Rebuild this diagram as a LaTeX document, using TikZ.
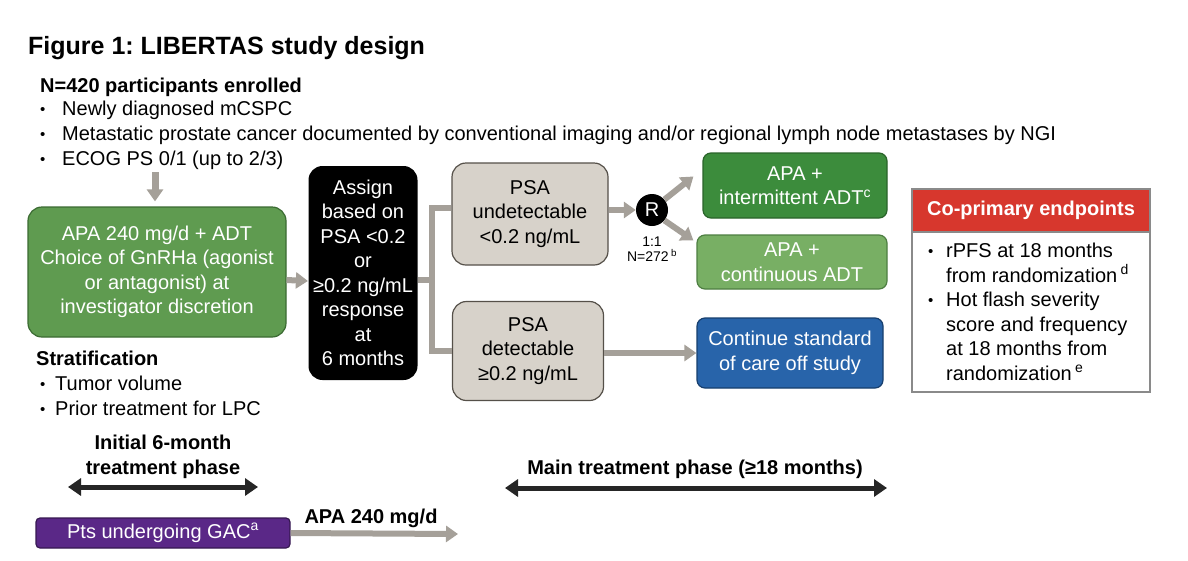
\documentclass[tikz,border=0pt]{standalone}
\usepackage{fontspec}
\setmainfont{Liberation Sans}
\usetikzlibrary{arrows.meta,calc}
\frenchspacing
\definecolor{arrowgrey}{HTML}{A5A099}
\definecolor{gmid}{HTML}{5F9B50}
\definecolor{gmidb}{HTML}{3B6B32}
\definecolor{gdark}{HTML}{3C8C3C}
\definecolor{gdarkb}{HTML}{2A642A}
\definecolor{glight}{HTML}{78AF64}
\definecolor{glightb}{HTML}{4E7F42}
\definecolor{bluef}{HTML}{2864AA}
\definecolor{blueb}{HTML}{173F6E}
\definecolor{redf}{HTML}{D7372D}
\definecolor{purplef}{HTML}{5A2887}
\definecolor{psaf}{HTML}{D7D2CA}
\definecolor{psab}{HTML}{555049}
\definecolor{epb}{HTML}{8A8A8A}
\newcommand{\bul}[1]{\makebox[#1][l]{\raisebox{1pt}{\fontsize{15}{15}\selectfont •}}}
\begin{document}
\begin{tikzpicture}[x=1pt,y=-1pt,
  txt/.style={font=\fontsize{20}{24.5}\selectfont, inner sep=0pt, anchor=base west},
  btxt/.style={font=\bfseries\fontsize{20}{24.5}\selectfont, inner sep=0pt},
  box/.style={rounded corners=14pt, inner sep=0pt, align=center, text=white,
    font=\fontsize{20}{24.5}\selectfont, line width=1.2pt},
  gline/.style={draw=arrowgrey, line width=6pt},
  garrow/.style={draw=arrowgrey, line width=6pt, -{Triangle[length=12pt,width=16pt]}},
  darrow/.style={draw=black!85, line width=5pt,
    {Triangle[length=13pt,width=17pt]}-{Triangle[length=13pt,width=17pt]}}
]
\path[use as bounding box, fill=white] (0,0) rectangle (1188,560);

% title and enrolment
\node[btxt, anchor=base west, font=\bfseries\fontsize{25}{30}\selectfont] (title) at (28,54) {Figure 1: LIBERTAS study design};
\node[btxt, anchor=base west] (enr) at (40,92) {N=420 participants enrolled};
\node[txt] (b1) at (40,115) {\bul{22pt}Newly diagnosed mCSPC};
\node[txt] (b2) at (40,140) {\bul{22pt}Metastatic prostate cancer documented by conventional imaging and/or regional lymph node metastases by NGI};
\node[txt] (b3) at (40,165) {\bul{22pt}ECOG PS 0/1 (up to 2/3)};
\coordinate (ecogend) at (155,172);

% boxes
\node[box, fill=gmid, draw=gmidb, minimum width=258pt, minimum height=130pt] (green1) at (157,272)
  {APA 240 mg/d + ADT\\Choice of GnRHa (agonist\\or antagonist) at\\investigator discretion};
\node[box, fill=black, minimum width=109pt, minimum height=214pt] (black) at (363,273)
  {Assign\\based on\\PSA <0.2\\or\\≥0.2 ng/mL\\response\\at\\6 months};
\node[box, fill=psaf, draw=psab, text=black, minimum width=156pt, minimum height=102pt] (psa1) at (530,214)
  {PSA\\undetectable\\<0.2 ng/mL};
\node[box, fill=psaf, draw=psab, text=black, minimum width=151pt, minimum height=99pt] (psa2) at (528,351)
  {PSA\\detectable\\≥0.2 ng/mL};
\node[circle, fill=black, minimum size=32pt, inner sep=0pt, text=white,
  font=\fontsize{20}{24}\selectfont] (R) at (652,210) {R};
\node[font=\fontsize{14}{15}\selectfont, align=center, inner sep=0pt] (ratio) at (652,249)
  {1:1\\N=272\,\textsuperscript{b}};
\node[box, rounded corners=8pt, fill=gdark, draw=gdarkb, minimum width=184pt, minimum height=65pt] (int) at (795,185.5)
  {APA +\\intermittent ADT\textsuperscript{c}};
\node[box, rounded corners=8pt, fill=glight, draw=glightb, minimum width=190pt, minimum height=54pt] (cont) at (792,262)
  {APA +\\continuous ADT};
\node[box, rounded corners=8pt, fill=bluef, draw=blueb, minimum width=186pt, minimum height=70pt] (blue) at (790,353)
  {Continue standard\\of care off study};

% endpoints
\node[draw=epb, line width=1.2pt, fill=white, minimum width=238pt, minimum height=203pt, inner sep=0pt] (epbody) at (1031,290.5) {};
\node[fill=redf, draw=epb, line width=1.2pt, minimum width=238pt, minimum height=43pt, inner sep=0pt,
  text=white, font=\bfseries\fontsize{20}{24}\selectfont] (ephead) at (1031,210.5) {Co-primary endpoints};
\node[txt] (e1) at (928,257) {\bul{18pt}rPFS at 18 months};
\node[txt] (e2) at (946,282) {from randomization\,\textsuperscript{d}};
\node[txt] (e3) at (928,306) {\bul{18pt}Hot flash severity};
\node[txt] (e4) at (946,331) {score and frequency};
\node[txt] (e5) at (946,355) {at 18 months from};
\node[txt] (e6) at (946,380) {randomization\,\textsuperscript{e}};

% stratification
\node[btxt, anchor=base west] (strat) at (36,365) {Stratification};
\node[txt] (s1) at (40,390) {\bul{15pt}Tumor volume};
\node[txt] (s2) at (40,415) {\bul{15pt}Prior treatment for LPC};

% phases
\node[btxt, align=center, anchor=base] (phase1) at (163,474) {Initial 6-month\\treatment phase};
\coordinate (p1l) at (68,487);
\coordinate (p1r) at (258,487);
\node[btxt, anchor=base] (phase2) at (695,474) {Main treatment phase (≥18 months)};
\coordinate (p2l) at (505,488);
\coordinate (p2r) at (887,488);

% GAC
\node[box, rounded corners=4pt, fill=purplef, draw=purplef!60!black, minimum width=254pt, minimum height=30pt] (gac) at (163,533)
  {Pts undergoing GAC\textsuperscript{a}};
\coordinate (gacend) at (458,534);
\node[btxt, anchor=base] (apalab) at (371,523) {APA 240 mg/d};

% connectors
\draw[garrow, line width=7pt, shorten >=5pt] (ecogend) -- (green1.north -| ecogend);
\draw[garrow] ([yshift=-8pt]green1.east) -- ([yshift=-8pt]black.west);
\coordinate (tj) at (432,280);
\coordinate (tt) at (432,208);
\coordinate (tb) at (432,351);
\draw[gline] ([yshift=-7pt]black.east) -- (tj);
\draw[gline] (tt -| psa1.west) -- (tt) -- (tb) -- (tb -| psa2.west);
\draw[garrow] (R.west -| psa1.east) -- (R.west);
\draw[garrow] (R.40) -- ($(int.west)+(-9,-9)$);
\draw[garrow] (R.-40) -- ($(cont.north west)+(-3,6)$);
\draw[garrow] (blue.west -| psa2.east) -- (blue.west);
\draw[garrow] (gac.east) -- (gacend);
\draw[darrow] (p1l) -- (p1r);
\draw[darrow] (p2l) -- (p2r);
\end{tikzpicture}
\end{document}
